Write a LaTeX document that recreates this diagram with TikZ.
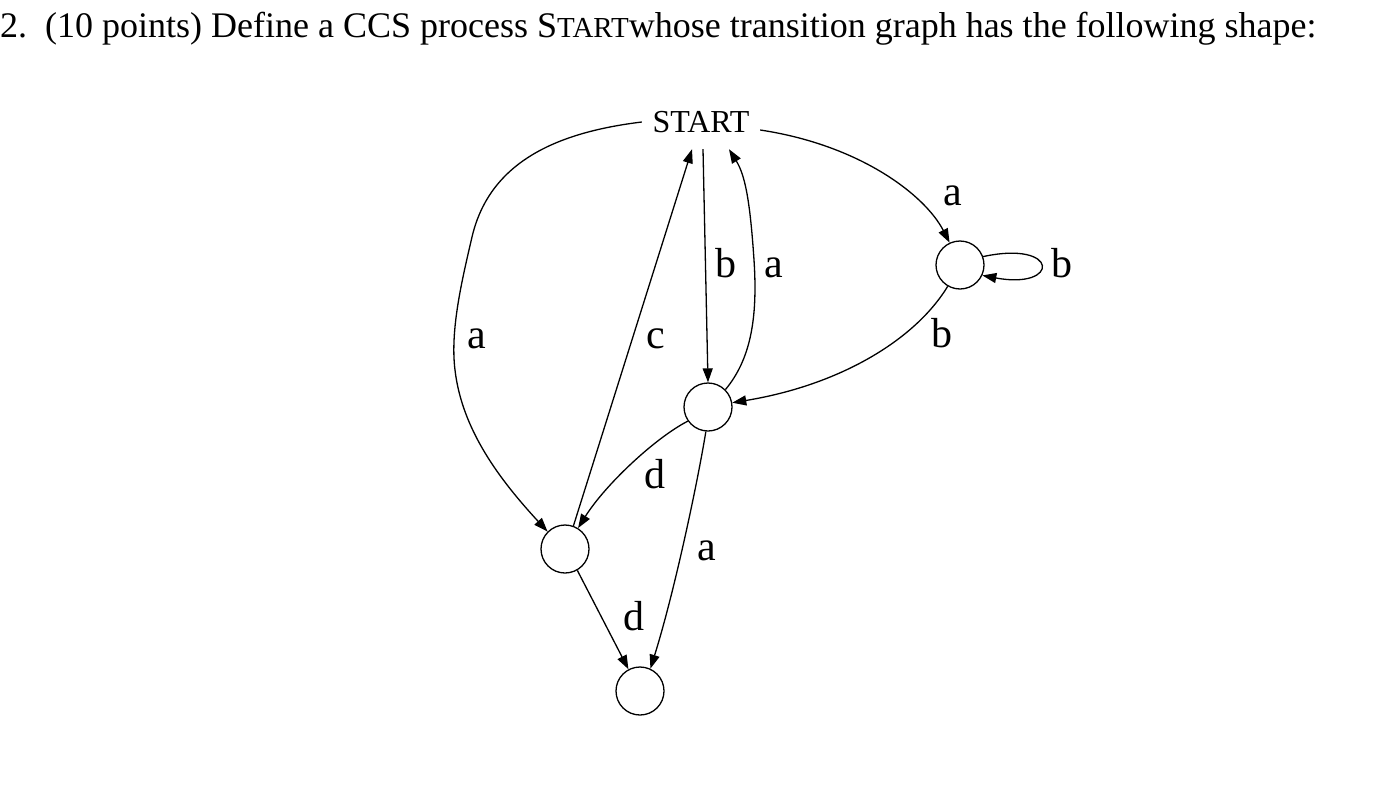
\documentclass[tikz,border=0pt]{standalone}
\usepackage{fontspec}
\setmainfont{Liberation Serif}
\usetikzlibrary{arrows.meta}
\begin{document}
\begin{tikzpicture}[x=1pt,y=-1pt,
  st/.style={circle,draw,line width=1.3pt,minimum size=48pt,inner sep=0pt},
  edge/.style={line width=1.3pt,-{Triangle[length=14pt,width=10pt]}},
  lbl/.style={anchor=base,inner sep=0pt,font=\fontsize{42}{46}\selectfont}]
\useasboundingbox (0,0) rectangle (1384,798);
\node[anchor=base west,inner sep=0pt,font=\fontsize{36}{42}\selectfont] (title) at (0,37)
  {2.\hspace{0.5em}(10 points) Define a CCS process S{\fontsize{29}{34}\selectfont TART}whose transition graph has the following shape:};
\node[minimum width=118pt,minimum height=54pt,inner sep=0pt,font=\fontsize{32}{36}\selectfont] (S) at (701,122) {START};
\node[st] (R) at (960,265) {};
\node[st] (M) at (708,407) {};
\node[st] (L) at (565,549) {};
\node[st] (B) at (640,691) {};
% START -> L (a)
\draw[edge] (S.west) .. controls (560,132) and (490,160) .. (472,237)
  .. controls (462,280) and (450,330) .. (455,370)
  .. controls (462,430) and (500,480) .. (L.135);
% L -> START (c)
\draw[edge] (L.70) -- ([xshift=-9pt]S.south);
% START -> M (b)
\draw[edge] ([xshift=2pt]S.south) -- (M.north);
% M -> START (a)
\draw[edge] (M.45) .. controls (750,360) and (758,320) .. (754,260)
  .. controls (750,200) and (745,175) .. ([xshift=28pt]S.south);
% START -> R (a)
\draw[edge] ([yshift=-8pt]S.east) .. controls (860,145) and (925,195) .. (R.115);
% R self loop (b)
\draw[edge] (R.20) .. controls (1060,240) and (1060,290) .. (R.-25);
% R -> M (b)
\draw[edge] (R.240) .. controls (915,340) and (840,385) .. (M.10);
% M -> L (d)
\draw[edge] (M.215) .. controls (655,438) and (605,485) .. (L.58);
% M -> B (a)
\draw[edge] (M.265) .. controls (698,480) and (675,590) .. (B.65);
% L -> B (d)
\draw[edge] (L.-60) -- (B.118);
% labels
\node[lbl] (l1) at (477,348) {a};
\node[lbl] (l2) at (656,348) {c};
\node[lbl] (l3) at (726,277) {b};
\node[lbl] (l4) at (774,277) {a};
\node[lbl] (l5) at (953,205) {a};
\node[lbl] (l6) at (1062,277) {b};
\node[lbl] (l7) at (942,347) {b};
\node[lbl] (l8) at (655,488) {d};
\node[lbl] (l9) at (707,560) {a};
\node[lbl] (l10) at (634,630) {d};
\end{tikzpicture}
\end{document}
